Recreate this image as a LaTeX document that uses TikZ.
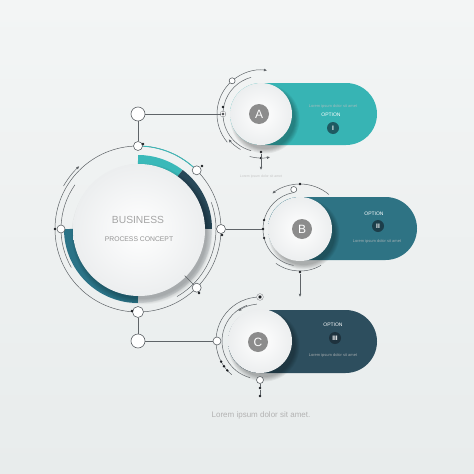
\documentclass[tikz,border=0pt]{standalone}
\usepackage{fontspec}
\setmainfont{Liberation Sans}
\usetikzlibrary{calc,arrows.meta}
\definecolor{bgtop}{RGB}{243,245,245}
\definecolor{bgbot}{RGB}{232,236,236}
\definecolor{linec}{RGB}{95,100,104}
\definecolor{dotc}{RGB}{25,28,32}
\definecolor{ringT}{RGB}{58,185,185}
\definecolor{ringN}{RGB}{40,72,88}
\definecolor{ringB}{RGB}{43,115,135}
\definecolor{ringG}{RGB}{218,223,225}
\definecolor{pillA}{RGB}{55,180,180}
\definecolor{pillB}{RGB}{46,115,132}
\definecolor{pillC}{RGB}{45,78,94}
\definecolor{romA}{RGB}{30,90,98}
\definecolor{romB}{RGB}{28,62,74}
\definecolor{romC}{RGB}{30,50,62}
\definecolor{letc}{RGB}{140,140,140}
\definecolor{diskc}{RGB}{236,238,239}
\definecolor{txtc}{RGB}{165,165,165}
\begin{document}
\begin{tikzpicture}[x=1pt,y=-1pt,
  lc/.style={draw=linec, line width=0.5pt},
  ringnode/.style={circle, draw=linec, fill=white, line width=0.6pt, inner sep=0pt},
  dotb/.style={circle, fill=dotc, inner sep=0pt, minimum size=2.6pt},
  bigdot/.style={circle, fill=dotc, inner sep=0pt, minimum size=4pt, draw=linec!70, double=white, double distance=0.8pt, line width=0.6pt},
  arr/.style={-{Latex[length=3.2pt,width=2.8pt]}},
  disk/.style={circle, inner sep=0pt, inner color=white, outer color=diskc},
  letter/.style={circle, fill=letc, inner sep=0pt, minimum size=20pt, text=white, font=\fontsize{12}{12}\selectfont},
  opt/.style={text=white, font=\fontsize{5}{6}\selectfont},
  tinytxt/.style={text=white!75!black, opacity=0.8, font=\fontsize{4}{4}\selectfont},
  roman/.style={circle, inner sep=0pt, minimum size=12pt, text=white, font=\bfseries\fontsize{6.5}{6.5}\selectfont}
]
\useasboundingbox (0,0) rectangle (474,474);
\shade[top color=bgtop, bottom color=bgbot] (0,0) rectangle (474,474);

\coordinate (M) at (138,229);
\coordinate (A) at (261,114);
\coordinate (B) at (300,229);
\coordinate (C) at (260,341);

% ---------- main ring ----------
\draw[line width=11pt, draw=ringT] ($(M)+(-90:68.5)$) arc[start angle=-90,end angle=-53,radius=68.5];
\draw[line width=11pt, draw=ringN] ($(M)+(-53:68.5)$) arc[start angle=-53,end angle=0,radius=68.5];
\draw[line width=11pt, draw=ringG] ($(M)+(0:68.5)$) arc[start angle=0,end angle=90,radius=68.5];
\draw[line width=11pt, draw=ringB] ($(M)+(90:68.5)$) arc[start angle=90,end angle=180,radius=68.5];

% outer thin circles
\draw[lc] (M) circle[radius=83];
\draw[draw=ringT, line width=0.9pt] ($(M)+(-90:83)$) arc[start angle=-90,end angle=-45,radius=83];
\draw[lc] ($(M)+(-20:78)$) arc[start angle=-20,end angle=60,radius=78];
\draw[lc] ($(M)+(150:77)$) arc[start angle=150,end angle=215,radius=77];
\draw[lc,arr] ($(M)+(-150:86)$) arc[start angle=-150,end angle=-133,radius=86];

% main disk with soft shadow
\foreach \k in {0,...,6} \fill[black, opacity=0.035] ($(M)+(4,5)$) circle[radius=65+\k*0.9];
\node[disk, minimum size=132pt] (md) at (139,230) {};
\node[text=txtc, font=\fontsize{10.3}{11}\selectfont] (biz) at (138,220) {BUSINESS};
\node[text=txtc!90!black, font=\fontsize{6.8}{7}\selectfont] (proc) at (139,239) {PROCESS CONCEPT};

% nodes on the main orbit
\node[ringnode, minimum size=9pt] (mt) at ($(M)+(-90:83)$) {};
\node[ringnode, minimum size=9pt] (mtr) at ($(M)+(-45:83)$) {};
\node[ringnode, minimum size=9pt] (mr) at ($(M)+(0:83)$) {};
\node[ringnode, minimum size=9pt] (mbr) at ($(M)+(45:83)$) {};
\node[ringnode, minimum size=11pt] (mb) at ($(M)+(90:83)$) {};
\node[ringnode, minimum size=8pt] (ml) at (61,229) {};
\node[dotb] (d1) at (143,144) {};
\node[dotb] (d2) at (202,166) {};
\node[dotb] (d3) at (222,235) {};
\node[dotb] (d4) at (199,293) {};
\node[dotb] (d5) at (132,311) {};
\node[dotb] (d6) at (55,229) {};
\coordinate (diag) at ($(M)+(45:66)$);
\draw[lc] (diag) -- (mbr);

% connector circles
\node[ringnode, minimum size=14pt] (tc) at (138,114) {};
\node[ringnode, minimum size=14pt] (bc) at (138,341) {};

% ---------- unit A ----------
\fill[pillA, rounded corners=31pt] (230,83) rectangle (377,145);
\foreach \k in {0,...,5} \fill[black, opacity=0.05] ($(A)+(4,5)$) circle[radius=30+\k*0.9];
\node[disk, minimum size=62pt] (dA) at (A) {};
\node[letter] (lA) at (259,114) {A};
\draw[lc] ($(A)+(105:38)$) arc[start angle=105,end angle=255,radius=38];
\draw[lc] ($(A)+(140:44)$) arc[start angle=140,end angle=229,radius=44];
\draw[lc,arr] ($(A)+(-131:44)$) arc[start angle=-131,end angle=-82,radius=44];
\draw[lc,arr] ($(A)+(105:44)$) arc[start angle=105,end angle=78,radius=44];
\draw[lc,arr] ($(A)+(120:41)$) arc[start angle=120,end angle=142,radius=41];
\node[ringnode, minimum size=6pt] (aS) at ($(A)+(-131:44)$) {};
\node[bigdot] (adot) at ($(A)+(180:38)$) {};
\node[dotb] (aU) at (223,107) {};
\node[dotb] (aB1) at ($(A)+(90:38)$) {};
\node[dotb] (aB2) at (261,158) {};
\coordinate (aB3) at (261,170);
\draw[lc,arr] (aB1) -- (aB3);
\node[text=gray!45, font=\fontsize{3.5}{4}\selectfont] (aT) at (261,177) {Lorem ipsum dolor sit amet};
\node[tinytxt] (aL) at (333,106) {Lorem ipsum dolor sit amet};
\node[opt] (aO) at (331,115) {OPTION};
\node[roman, fill=romA] (aR) at (333,128) {I};

% ---------- unit B ----------
\fill[pillB, rounded corners=31.5pt] (268,197) rectangle (417,260);
\foreach \k in {0,...,5} \fill[black, opacity=0.05] ($(B)+(4,5)$) circle[radius=31+\k*0.9];
\node[disk, minimum size=64pt] (dB) at (B) {};
\node[letter] (lB) at (302,229) {B};
\draw[lc] ($(B)+(100:37)$) arc[start angle=100,end angle=260,radius=37];
\draw[lc] ($(B)+(-50:45)$) arc[start angle=-50,end angle=-90,radius=45];
\draw[lc,arr] ($(B)+(-90:45)$) arc[start angle=-90,end angle=-128,radius=45];
\draw[lc] ($(B)+(60:42)$) arc[start angle=60,end angle=125,radius=42];
\node[dotb] (bT) at ($(B)+(-90:45)$) {};
\node[ringnode, minimum size=6pt] (bS) at ($(B)+(-99:40)$) {};
\node[dotb] (bdot) at ($(B)+(180:37)$) {};
\node[dotb] (bU) at ($(B)+(-166:37)$) {};
\node[dotb] (bD) at ($(B)+(166:37)$) {};
\node[dotb] (bB1) at ($(B)+(90:43)$) {};
\coordinate (bB2) at (300,297);
\draw[lc,arr] (bB1) -- (bB2);
\node[opt] (bO) at (374,214) {OPTION};
\node[roman, fill=romB] (bR) at (378,226) {II};
\node[tinytxt] (bL) at (377,241) {Lorem ipsum dolor sit amet};

% ---------- unit C ----------
\fill[pillC, rounded corners=31.5pt] (228,310) rectangle (377,373);
\foreach \k in {0,...,5} \fill[black, opacity=0.05] ($(C)+(4,5)$) circle[radius=31+\k*0.9];
\node[disk, minimum size=64pt] (dC) at (C) {};
\node[letter] (lC) at (258,342) {C};
\draw[lc] ($(C)+(130:44)$) arc[start angle=130,end angle=270,radius=44];
\draw[lc] ($(C)+(105:38)$) arc[start angle=105,end angle=250,radius=38];
\draw[lc,arr] ($(C)+(-95:37)$) arc[start angle=-95,end angle=-126,radius=37];
\node[bigdot, minimum size=5pt] (cT) at ($(C)+(-90:44)$) {};
\node[ringnode, minimum size=8pt] (cl) at ($(C)+(180:43)$) {};
\node[dotb] (cd1) at ($(C)+(152:44)$) {};
\node[dotb] (cd2) at ($(C)+(145:44)$) {};
\node[dotb] (cd3) at ($(C)+(138:44)$) {};
\node[ringnode, minimum size=7pt] (cB) at ($(C)+(90:39)$) {};
\node[dotb] (cB1) at (260,388) {};
\node[dotb] (cB2) at (260,396) {};
\draw[lc] (cB) -- (cB1) -- (cB2);
\node[opt] (cO) at (333,325) {OPTION};
\node[roman, fill=romC] (cR) at (335,338) {III};
\node[tinytxt] (cL) at (333,355) {Lorem ipsum dolor sit amet};

% ---------- connectors ----------
\draw[lc] (mt) -- (tc);
\draw[lc] (tc) -- (adot);
\draw[lc] (mr) -- (bdot);
\draw[lc] (mb) -- (bc);
\draw[lc] (bc) -- (cl);

% bottom caption
\node[text=gray!60, font=\fontsize{8}{9}\selectfont] (cap) at (261,415) {Lorem ipsum dolor sit amet.};
\end{tikzpicture}
\end{document}
